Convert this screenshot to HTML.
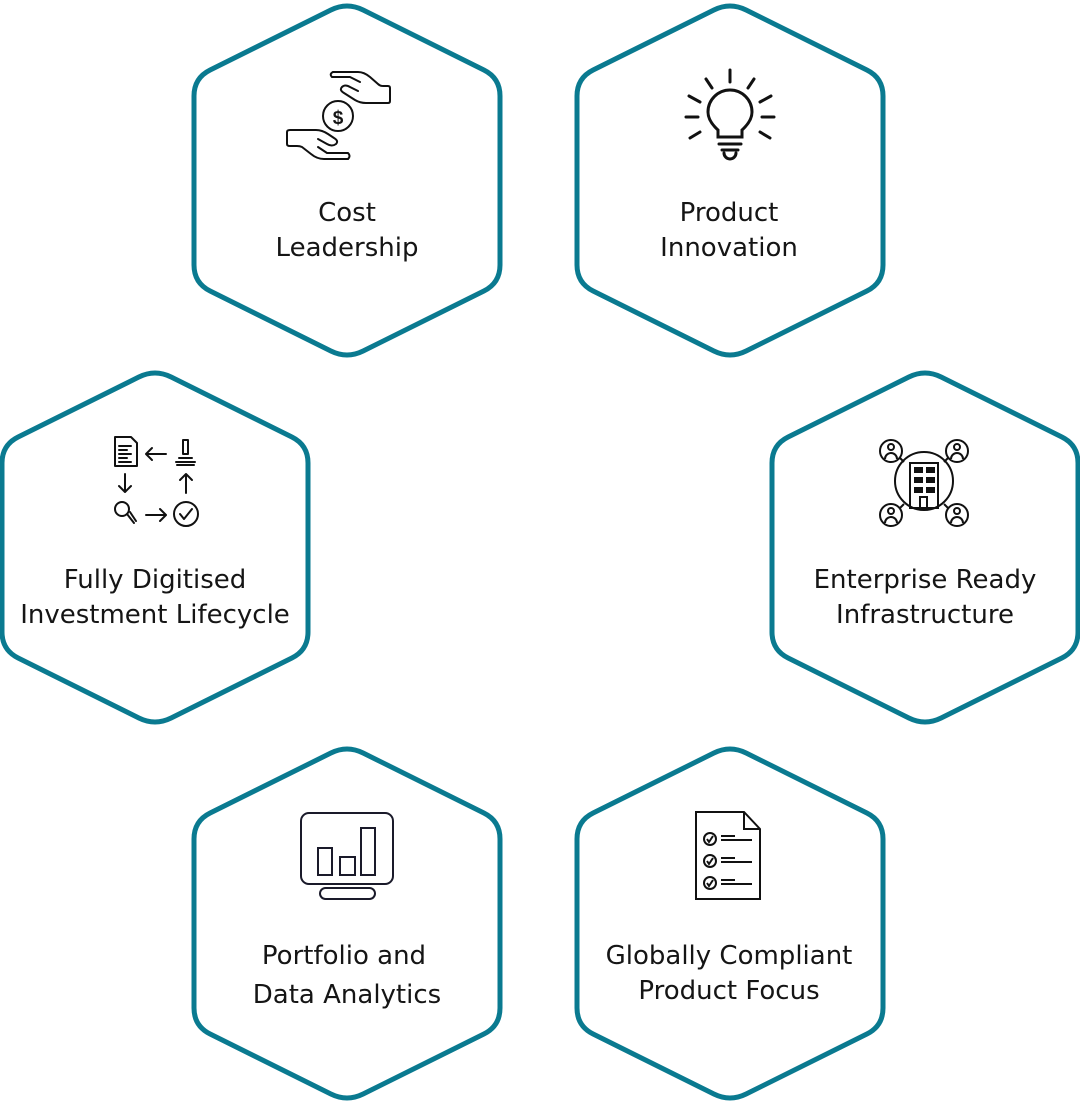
<!DOCTYPE html>
<html><head><meta charset="utf-8"><style>
html,body{margin:0;padding:0;background:#fff;}
svg{display:block}
text{font-family:"DejaVu Sans","Liberation Sans",sans-serif;font-size:26px;fill:#151515;text-anchor:middle}
</style></head><body>
<svg id="s" width="1080" height="1104" viewBox="0 0 1080 1104">
<g id="hex" fill="none" stroke="#0a7a90" stroke-width="5"></g>

<!-- Cost leadership icon -->
<g fill="none" stroke="#111" stroke-width="2" stroke-linejoin="round" stroke-linecap="round">
<path d="M333 72 H358 Q364 72 370 77 L378 84 Q380 86 383 86 H388 Q390 86 390 88 V101 Q390 103 388 103 H366 Q360 103 355 100 L344 93 Q339 90 342 87 Q345 84 350 87 L358 91"/>
<path d="M333 72 Q329 74 332 77 H350 L360 82"/>
<circle cx="338" cy="116" r="15"/>
<path d="M348 159 H324 Q317 159 311 154 L302 147 Q300 146 297 146 H290 Q287 146 287 144 V132 Q287 130 290 130 H316 Q322 130 328 134 L334 138 Q339 141 336 144 Q332 147 327 144 L318 139"/>
<path d="M348 159 Q351 156 348 153 H327 L318 147"/>
</g>
<text x="338" y="124" style="font-size:19px;font-weight:bold;font-family:'Liberation Sans',sans-serif">$</text>

<!-- Lightbulb -->
<g fill="none" stroke="#111" stroke-width="3" stroke-linecap="round">
<path d="M718 137 V130 Q708 121 708 112 A22 22 0 1 1 752 112 Q752 121 742 130 V137 Z"/>
<path d="M719 144 H741 M722 150 H738"/>
<path d="M724 153 A6 6 0 0 0 736 153"/>
<path d="M730 70 V82 M706 79 L712 88 M754 79 L748 88 M689 96 L700 102 M771 96 L760 102 M686 117 H698 M774 117 H762 M690 138 L700 132 M770 138 L760 132"/>
</g>

<!-- Lifecycle icon -->
<g fill="none" stroke="#111" stroke-width="2" stroke-linecap="round" stroke-linejoin="round">
<path d="M115 437 H131 L137 443 V466 H115 Z"/>
<path d="M119 446 H131 M119 450 H127 M119 454 H131 M119 458 H127 M119 462 H131"/>
<path d="M146 454 H166 M152 448 L146 454 L152 460"/>
<rect x="183" y="440" width="5" height="14"/>
<path d="M179 458 H192 M176 462 H195 M177 465 H194"/>
<path d="M125 474 V492 M119 486 L125 492 L131 486"/>
<path d="M186 493 V474 M180 480 L186 474 L192 480"/>
<circle cx="122" cy="509" r="7"/>
<path d="M127 514 L134 523 M130 512 L136 521"/>
<path d="M146 515 H166 M160 509 L166 515 L160 521"/>
<circle cx="186" cy="514" r="12"/>
<path d="M180 514 L184 519 L192 509"/>
</g>

<!-- Enterprise icon -->
<g fill="none" stroke="#111" stroke-width="2">
<circle cx="924" cy="481" r="29"/>
<circle cx="891" cy="451" r="11"/><circle cx="957" cy="451" r="11"/>
<circle cx="891" cy="515" r="11"/><circle cx="957" cy="515" r="11"/>
<path d="M900 458 L904 462 M948 458 L944 462 M900 508 L904 504 M948 508 L944 504"/>
<rect x="910" y="463" width="28" height="45"/>
<rect x="920" y="497" width="7" height="11"/>
<path d="M885 459 A6 6 0 0 1 897 459 M951 459 A6 6 0 0 1 963 459 M885 523 A6 6 0 0 1 897 523 M951 523 A6 6 0 0 1 963 523"/>
<circle cx="891" cy="447" r="3"/><circle cx="957" cy="447" r="3"/><circle cx="891" cy="511" r="3"/><circle cx="957" cy="511" r="3"/>
</g>
<g fill="#111">
<rect x="914" y="467" width="9" height="6"/><rect x="926" y="467" width="9" height="6"/>
<rect x="914" y="477" width="9" height="6"/><rect x="926" y="477" width="9" height="6"/>
<rect x="914" y="487" width="9" height="6"/><rect x="926" y="487" width="9" height="6"/>
</g>

<!-- Analytics icon -->
<g fill="none" stroke="#1a1a2a" stroke-width="2">
<rect x="301" y="813" width="92" height="71" rx="8"/>
<rect x="320" y="888" width="55" height="11" rx="5.5"/>
<rect x="318" y="848" width="14" height="27"/>
<rect x="340" y="857" width="15" height="18"/>
<rect x="361" y="828" width="14" height="47"/>
</g>

<!-- Compliance doc icon -->
<g fill="none" stroke="#111" stroke-width="2">
<path d="M696 812 H744 L760 829 V899 H696 Z"/>
<path d="M744 812 V829 H760"/>
<circle cx="710" cy="839" r="6"/><circle cx="710" cy="861" r="6"/><circle cx="710" cy="883" r="6"/>
<path d="M707 839 L709 842 L713 836 M707 861 L709 864 L713 858 M707 883 L709 886 L713 880"/>
<path d="M721 840 H752 M721 862 H752 M721 884 H752 M721 836 H735 M721 858 H735 M721 880 H735"/>
</g>

<text x="347" y="221">Cost</text>
<text x="347" y="256">Leadership</text>
<text x="729" y="221">Product</text>
<text x="729" y="256">Innovation</text>
<text x="155" y="588">Fully Digitised</text>
<text x="155" y="623">Investment Lifecycle</text>
<text x="925" y="588">Enterprise Ready</text>
<text x="925" y="623">Infrastructure</text>
<text x="344" y="964">Portfolio and</text>
<text x="347" y="1003">Data Analytics</text>
<text x="729" y="964">Globally Compliant</text>
<text x="729" y="999">Product Focus</text>
</svg>
<script>
(function(){
var g=document.getElementById('hex');
var hs=[[347,2],[730,2],[155,369],[925,369],[347,745],[730,745]];
var r=18;
hs.forEach(function(h){
 var cx=h[0],t=h[1];
 var p=[[cx,t],[cx+153,t+76],[cx+153,t+281],[cx,t+357],[cx-153,t+281],[cx-153,t+76]];
 var d='';
 for(var i=0;i<6;i++){
  var a=p[(i+5)%6],b=p[i],c=p[(i+1)%6];
  var l1=Math.hypot(a[0]-b[0],a[1]-b[1]),l2=Math.hypot(c[0]-b[0],c[1]-b[1]);
  var s=[b[0]+(a[0]-b[0])*r/l1,b[1]+(a[1]-b[1])*r/l1];
  var e=[b[0]+(c[0]-b[0])*r/l2,b[1]+(c[1]-b[1])*r/l2];
  d+=(i==0?'M':'L')+s[0]+' '+s[1]+' Q'+b[0]+' '+b[1]+' '+e[0]+' '+e[1]+' ';
 }
 d+='Z';
 var el=document.createElementNS('http://www.w3.org/2000/svg','path');
 el.setAttribute('d',d);g.appendChild(el);
});
})();
</script>
</body></html>
